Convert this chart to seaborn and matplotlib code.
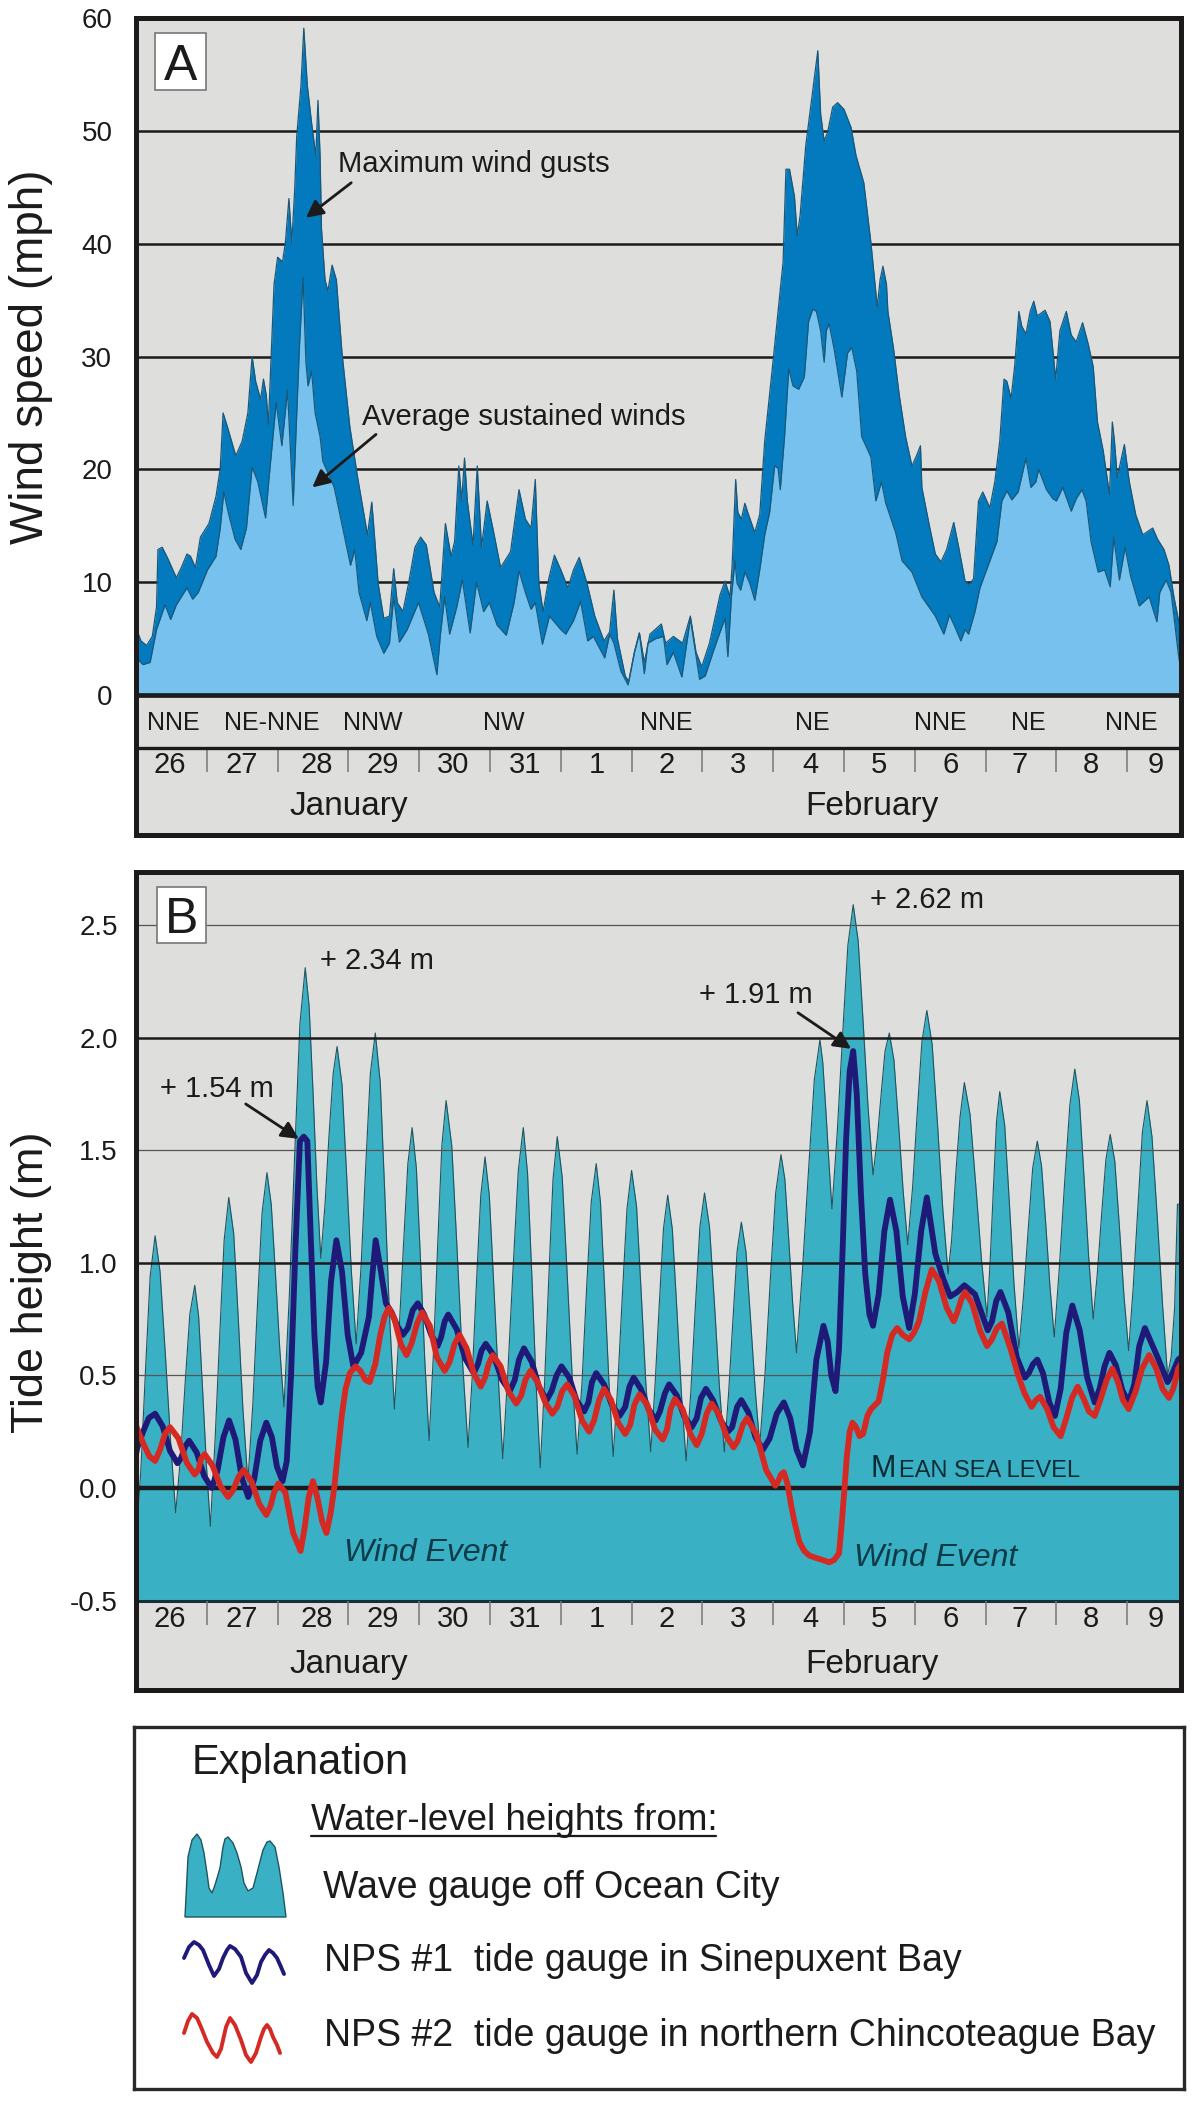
import matplotlib
matplotlib.use('Agg')
import matplotlib.pyplot as plt
import seaborn as sns
from matplotlib.patches import Rectangle

# wind speed, mph (days counted from the start of January 26)
gust_day = [0.0, 0.07, 0.15, 0.23, 0.29, 0.31, 0.37, 0.45, 0.57, 0.64, 0.72, 0.77, 0.84, 0.91, 1.03, 1.13, 1.19, 1.23, 1.29, 1.41,
            1.50, 1.58, 1.64, 1.69, 1.76, 1.80, 1.84, 1.87, 1.91, 1.95, 2.00, 2.07, 2.11, 2.16, 2.20, 2.24, 2.27, 2.33, 2.37, 2.42,
            2.48, 2.54, 2.57, 2.60, 2.62, 2.67, 2.71, 2.77, 2.83, 2.91, 3.02, 3.13, 3.22, 3.27, 3.33, 3.36, 3.42, 3.50, 3.58, 3.64,
            3.69, 3.77, 3.85, 3.94, 4.02, 4.10, 4.21, 4.29, 4.37, 4.45, 4.50, 4.56, 4.60, 4.64, 4.68, 4.76, 4.82, 4.88, 4.96, 5.04,
            5.15, 5.29, 5.41, 5.50, 5.58, 5.64, 5.69, 5.75, 5.83, 5.91, 6.00, 6.10, 6.18, 6.26, 6.37, 6.48, 6.61, 6.69, 6.75, 6.80,
            6.91, 6.96, 7.04, 7.11, 7.18, 7.26, 7.42, 7.48, 7.59, 7.72, 7.83, 7.91, 7.99, 8.10, 8.25, 8.32, 8.39, 8.42, 8.47, 8.50,
            8.55, 8.60, 8.64, 8.74, 8.81, 8.88, 8.99, 9.14, 9.18, 9.23, 9.30, 9.34, 9.38, 9.46, 9.56, 9.63, 9.67, 9.72, 9.77, 9.84,
            9.91, 10.00, 10.10, 10.17, 10.28, 10.38, 10.47, 10.51, 10.55, 10.60, 10.62, 10.70, 10.78, 10.87, 10.96, 11.03, 11.08, 11.10, 11.20, 11.29,
            11.37, 11.45, 11.55, 11.62, 11.71, 11.77, 11.83, 11.90, 11.96, 12.06, 12.13, 12.20, 12.26, 12.30, 12.36, 12.41, 12.47, 12.51, 12.57, 12.63,
            12.68, 12.73, 12.84, 12.91, 12.99, 13.05, 13.14, 13.21, 13.28, 13.37, 13.45, 13.52, 13.58, 13.66, 13.75, 13.79, 13.82, 13.86, 13.96, 14.03,
            14.12, 14.22, 14.36, 14.43, 14.52, 14.59, 14.66, 14.72, 14.76]
gust_mph = [6.0, 4.8, 4.4, 5.2, 7.8, 12.9, 13.1, 12.1, 10.4, 11.3, 12.5, 12.3, 11.3, 14.0, 15.2, 17.6, 20.1, 25.0, 23.8, 21.2,
            22.5, 25.0, 30.0, 27.8, 26.2, 28.0, 26.6, 24.0, 30.3, 36.4, 38.8, 38.4, 40.1, 44.0, 40.1, 44.6, 49.5, 54.0, 59.1, 54.0,
            50.7, 47.8, 52.7, 47.8, 41.3, 36.8, 35.8, 38.1, 36.8, 30.3, 23.8, 19.3, 16.0, 14.2, 17.1, 14.8, 9.9, 6.8, 7.0, 11.2,
            8.2, 7.4, 9.9, 13.1, 14.0, 13.3, 9.1, 7.8, 15.2, 12.3, 13.6, 20.3, 17.2, 21.0, 17.2, 13.3, 20.3, 13.1, 17.2, 14.8,
            11.3, 12.7, 18.2, 15.6, 14.8, 19.1, 9.9, 7.4, 10.3, 12.4, 11.1, 9.5, 11.1, 12.2, 9.9, 7.0, 4.8, 5.6, 9.3, 5.0,
            1.7, 1.2, 3.8, 5.5, 2.9, 5.4, 6.3, 4.6, 5.2, 4.6, 7.0, 3.8, 2.5, 4.6, 8.9, 10.1, 8.7, 11.5, 19.1, 16.2,
            15.6, 17.0, 16.2, 14.4, 16.0, 22.5, 29.1, 38.4, 46.6, 46.6, 44.2, 40.7, 42.5, 48.7, 53.6, 57.1, 51.5, 49.1, 49.9, 52.1,
            52.5, 51.9, 50.3, 47.8, 45.4, 40.1, 34.4, 36.8, 38.0, 36.4, 34.0, 30.7, 26.6, 22.9, 20.3, 21.3, 22.1, 18.4, 15.2, 12.5,
            11.8, 12.9, 15.3, 13.1, 10.1, 9.8, 10.3, 17.2, 18.0, 16.6, 18.9, 22.5, 28.0, 27.8, 26.3, 29.1, 34.0, 32.7, 32.0, 34.0,
            34.9, 33.6, 34.1, 33.1, 28.0, 32.3, 34.0, 31.9, 31.3, 33.0, 31.1, 29.1, 24.2, 21.7, 17.8, 24.2, 22.5, 19.3, 22.2, 18.9,
            16.0, 14.2, 14.8, 13.8, 12.9, 11.5, 8.7, 6.8, 5.5]
sust_day = [0.0, 0.10, 0.20, 0.29, 0.41, 0.49, 0.57, 0.72, 0.80, 0.88, 1.01, 1.13, 1.19, 1.24, 1.31, 1.40, 1.48, 1.56, 1.64, 1.72,
            1.83, 1.88, 1.98, 2.06, 2.14, 2.22, 2.26, 2.31, 2.36, 2.40, 2.43, 2.48, 2.53, 2.60, 2.64, 2.80, 2.96, 3.03, 3.09, 3.15,
            3.26, 3.31, 3.40, 3.50, 3.58, 3.64, 3.72, 3.83, 3.99, 4.13, 4.25, 4.30, 4.36, 4.43, 4.53, 4.61, 4.72, 4.81, 4.91, 4.99,
            5.10, 5.23, 5.34, 5.41, 5.50, 5.58, 5.64, 5.74, 5.84, 6.00, 6.07, 6.18, 6.28, 6.38, 6.46, 6.62, 6.69, 6.75, 6.85, 6.95,
            7.04, 7.11, 7.18, 7.23, 7.34, 7.45, 7.50, 7.59, 7.71, 7.83, 7.96, 8.04, 8.15, 8.25, 8.32, 8.36, 8.41, 8.46, 8.49, 8.54,
            8.60, 8.67, 8.74, 8.81, 8.88, 8.95, 9.02, 9.07, 9.10, 9.16, 9.22, 9.28, 9.36, 9.44, 9.50, 9.56, 9.61, 9.67, 9.72, 9.75,
            9.79, 9.86, 9.97, 10.05, 10.11, 10.18, 10.25, 10.38, 10.45, 10.53, 10.59, 10.73, 10.82, 10.96, 11.10, 11.29, 11.41, 11.49, 11.57, 11.65,
            11.71, 11.76, 11.85, 11.92, 12.16, 12.23, 12.30, 12.37, 12.46, 12.57, 12.64, 12.71, 12.75, 12.86, 12.95, 13.00, 13.09, 13.21, 13.28, 13.36,
            13.42, 13.49, 13.59, 13.68, 13.76, 13.81, 13.89, 13.97, 14.05, 14.17, 14.31, 14.42, 14.46, 14.55, 14.62, 14.72, 14.76]
sust_mph = [3.3, 2.7, 2.9, 5.8, 8.0, 6.7, 8.0, 9.5, 8.5, 9.1, 11.1, 12.3, 14.8, 18.0, 16.0, 13.8, 12.9, 14.8, 20.2, 18.9,
            15.7, 19.3, 25.9, 22.1, 27.0, 16.8, 23.3, 31.1, 37.0, 29.5, 27.4, 28.7, 25.0, 22.9, 20.7, 18.4, 13.6, 11.5, 12.9, 9.1,
            6.6, 8.2, 5.2, 3.7, 4.6, 8.7, 4.7, 5.8, 8.2, 5.4, 1.8, 5.4, 8.7, 5.4, 7.8, 10.2, 5.5, 10.0, 7.4, 8.2,
            6.2, 5.3, 8.2, 11.0, 9.1, 7.6, 8.2, 4.5, 7.0, 5.8, 5.4, 6.6, 8.3, 4.8, 5.2, 3.3, 5.4, 4.6, 2.1, 0.9,
            3.8, 5.5, 1.9, 4.6, 5.0, 5.2, 2.7, 3.8, 1.6, 6.8, 1.4, 1.7, 3.8, 5.6, 6.8, 3.4, 8.7, 11.9, 9.9, 9.3,
            10.9, 9.9, 8.4, 11.1, 14.2, 16.2, 20.3, 20.1, 18.2, 22.9, 28.9, 27.4, 27.1, 28.2, 33.1, 34.2, 34.0, 32.3, 29.5, 32.3,
            32.9, 30.7, 26.4, 30.3, 30.8, 28.7, 22.9, 21.1, 17.2, 18.9, 17.0, 14.4, 11.9, 10.9, 8.7, 7.0, 5.4, 7.1, 6.0, 4.8,
            5.8, 5.4, 7.4, 9.5, 13.6, 17.2, 18.1, 17.3, 18.0, 21.0, 18.4, 18.9, 20.0, 18.2, 17.4, 17.2, 18.4, 16.3, 17.4, 18.2,
            17.2, 13.6, 10.9, 11.1, 9.6, 14.0, 10.2, 13.1, 10.5, 7.9, 8.7, 6.5, 9.1, 10.2, 9.1, 3.8, 2.0]

# water level, metres
wave_day = [0.00, 0.07, 0.135, 0.20, 0.27, 0.34, 0.415, 0.49, 0.56, 0.63, 0.695, 0.76, 0.83, 0.885, 0.94, 0.995, 1.05, 1.115, 1.18, 1.245,
            1.31, 1.38, 1.445, 1.51, 1.58, 1.65, 1.715, 1.78, 1.85, 1.91, 1.97, 2.03, 2.09, 2.165, 2.24, 2.315, 2.39, 2.445, 2.50, 2.555,
            2.61, 2.67, 2.725, 2.785, 2.84, 2.91, 2.975, 3.04, 3.11, 3.18, 3.245, 3.31, 3.38, 3.45, 3.515, 3.58, 3.65, 3.71, 3.775, 3.84,
            3.90, 3.96, 4.02, 4.08, 4.14, 4.20, 4.26, 4.32, 4.38, 4.46, 4.535, 4.61, 4.69, 4.75, 4.81, 4.87, 4.93, 4.99, 5.055, 5.12,
            5.18, 5.25, 5.325, 5.40, 5.47, 5.53, 5.59, 5.65, 5.71, 5.77, 5.83, 5.89, 5.95, 6.02, 6.09, 6.16, 6.23, 6.30, 6.365, 6.43,
            6.50, 6.56, 6.62, 6.68, 6.74, 6.805, 6.87, 6.935, 7.00, 7.07, 7.135, 7.20, 7.27, 7.33, 7.39, 7.45, 7.51, 7.575, 7.64, 7.705,
            7.77, 7.835, 7.90, 7.965, 8.03, 8.10, 8.17, 8.24, 8.31, 8.37, 8.43, 8.49, 8.55, 8.615, 8.68, 8.745, 8.81, 8.885, 8.96, 9.035,
            9.11, 9.165, 9.22, 9.275, 9.33, 9.41, 9.495, 9.58, 9.66, 9.70, 9.745, 9.79, 9.83, 9.905, 9.98, 10.055, 10.13, 10.20, 10.27, 10.34,
            10.41, 10.47, 10.525, 10.58, 10.64, 10.705, 10.77, 10.835, 10.90, 10.97, 11.035, 11.10, 11.17, 11.245, 11.32, 11.395, 11.47, 11.52, 11.58, 11.64,
            11.70, 11.78, 11.86, 11.94, 12.02, 12.065, 12.11, 12.155, 12.20, 12.27, 12.335, 12.40, 12.47, 12.535, 12.60, 12.665, 12.73, 12.79, 12.85, 12.91,
            12.97, 13.04, 13.115, 13.19, 13.26, 13.325, 13.39, 13.455, 13.52, 13.58, 13.64, 13.70, 13.76, 13.825, 13.89, 13.955, 14.02, 14.085, 14.15, 14.215,
            14.28, 14.35, 14.425, 14.50, 14.57, 14.62, 14.67, 14.71, 14.76]
wave_m = [-0.25, 0.09, 0.53, 0.94, 1.12, 0.96, 0.59, 0.20, -0.11, 0.14, 0.47, 0.77, 0.90, 0.76, 0.44, 0.10, -0.17, 0.20, 0.66, 1.10,
          1.29, 1.13, 0.75, 0.35, 0.03, 0.37, 0.81, 1.22, 1.40, 1.26, 0.95, 0.62, 0.36, 0.85, 1.47, 2.06, 2.31, 2.14, 1.76, 1.34,
          1.02, 1.26, 1.56, 1.84, 1.96, 1.79, 1.39, 0.97, 0.64, 0.99, 1.43, 1.84, 2.02, 1.80, 1.30, 0.77, 0.35, 0.66, 1.06, 1.44,
          1.60, 1.42, 1.00, 0.56, 0.21, 0.59, 1.07, 1.52, 1.72, 1.52, 1.06, 0.57, 0.18, 0.50, 0.92, 1.30, 1.47, 1.30, 0.89, 0.47,
          0.13, 0.50, 0.97, 1.41, 1.60, 1.40, 0.95, 0.47, 0.09, 0.46, 0.93, 1.37, 1.56, 1.38, 0.95, 0.50, 0.15, 0.47, 0.89, 1.27,
          1.44, 1.27, 0.88, 0.47, 0.14, 0.46, 0.86, 1.24, 1.41, 1.25, 0.87, 0.47, 0.16, 0.45, 0.81, 1.15, 1.30, 1.15, 0.79, 0.41,
          0.12, 0.42, 0.80, 1.16, 1.31, 1.16, 0.82, 0.45, 0.16, 0.42, 0.74, 1.05, 1.18, 1.05, 0.75, 0.44, 0.19, 0.51, 0.93, 1.31,
          1.48, 1.37, 1.10, 0.82, 0.60, 0.95, 1.39, 1.81, 1.99, 1.89, 1.67, 1.43, 1.24, 1.58, 2.01, 2.41, 2.59, 2.43, 2.07, 1.69,
          1.39, 1.55, 1.75, 1.94, 2.02, 1.90, 1.62, 1.32, 1.08, 1.34, 1.67, 1.98, 2.12, 1.97, 1.62, 1.24, 0.95, 1.10, 1.40, 1.65,
          1.80, 1.66, 1.35, 1.02, 0.76, 1.01, 1.33, 1.63, 1.76, 1.61, 1.27, 0.91, 0.62, 0.85, 1.14, 1.42, 1.54, 1.43, 1.17, 0.89,
          0.67, 0.97, 1.35, 1.70, 1.86, 1.72, 1.38, 1.03, 0.75, 0.96, 1.22, 1.46, 1.57, 1.45, 1.16, 0.85, 0.61, 0.89, 1.24, 1.58,
          1.72, 1.56, 1.20, 0.81, 0.50, 0.58, 0.80, 1.26, 1.26]
nps1_day = [0.00, 0.02, 0.10, 0.18, 0.27, 0.375, 0.48, 0.585, 0.64, 0.695, 0.75, 0.857, 0.963, 1.07, 1.15, 1.235, 1.315, 1.405, 1.495, 1.585,
            1.67, 1.755, 1.84, 1.92, 1.99, 2.07, 2.13, 2.19, 2.25, 2.315, 2.37, 2.42, 2.47, 2.52, 2.565, 2.61, 2.685, 2.755, 2.83, 2.91,
            2.99, 3.07, 3.18, 3.29, 3.34, 3.385, 3.45, 3.53, 3.61, 3.69, 3.77, 3.84, 3.91, 3.98, 4.07, 4.17, 4.26, 4.31, 4.36, 4.41,
            4.53, 4.65, 4.77, 4.83, 4.88, 4.94, 5.05, 5.17, 5.28, 5.35, 5.41, 5.48, 5.59, 5.69, 5.80, 5.87, 5.94, 6.01, 6.12, 6.22,
            6.33, 6.39, 6.44, 6.50, 6.61, 6.72, 6.83, 6.91, 6.97, 7.03, 7.13, 7.24, 7.34, 7.40, 7.47, 7.53, 7.64, 7.74, 7.85, 7.92,
            7.98, 8.05, 8.15, 8.26, 8.36, 8.42, 8.49, 8.55, 8.65, 8.75, 8.855, 8.95, 9.05, 9.15, 9.24, 9.33, 9.42, 9.52, 9.61, 9.71,
            9.77, 9.82, 9.88, 9.93, 9.98, 10.03, 10.08, 10.13, 10.18, 10.24, 10.30, 10.36, 10.41, 10.49, 10.57, 10.65, 10.74, 10.83, 10.92, 11.00,
            11.09, 11.17, 11.29, 11.40, 11.50, 11.60, 11.70, 11.85, 12.03, 12.09, 12.15, 12.21, 12.32, 12.44, 12.555, 12.61, 12.67, 12.73, 12.81, 12.90,
            12.98, 13.06, 13.14, 13.225, 13.33, 13.435, 13.54, 13.61, 13.68, 13.75, 13.84, 13.93, 14.02, 14.10, 14.17, 14.25, 14.43, 14.57, 14.64, 14.72, 14.76]
nps1_m = [0.15, 0.18, 0.25, 0.31, 0.33, 0.275, 0.165, 0.11, 0.135, 0.185, 0.21, 0.158, 0.053, 0.00, 0.075, 0.225, 0.30, 0.215, 0.045, -0.04,
          0.04, 0.21, 0.29, 0.225, 0.095, 0.03, 0.12, 0.50, 1.05, 1.54, 1.56, 1.54, 1.10, 0.68, 0.45, 0.38, 0.56, 0.92, 1.10, 0.96,
          0.68, 0.54, 0.60, 0.76, 0.95, 1.10, 0.98, 0.82, 0.78, 0.72, 0.68, 0.71, 0.79, 0.82, 0.77, 0.68, 0.63, 0.67, 0.74, 0.77,
          0.705, 0.575, 0.51, 0.55, 0.61, 0.64, 0.59, 0.48, 0.43, 0.48, 0.57, 0.62, 0.56, 0.45, 0.39, 0.43, 0.50, 0.54, 0.49, 0.39,
          0.34, 0.38, 0.47, 0.51, 0.46, 0.37, 0.32, 0.36, 0.45, 0.49, 0.44, 0.35, 0.30, 0.34, 0.42, 0.46, 0.41, 0.32, 0.27, 0.31,
          0.40, 0.44, 0.39, 0.30, 0.25, 0.27, 0.36, 0.39, 0.335, 0.225, 0.17, 0.22, 0.33, 0.38, 0.31, 0.17, 0.10, 0.25, 0.57, 0.72,
          0.65, 0.50, 0.43, 0.62, 1.05, 1.55, 1.85, 1.94, 1.75, 1.30, 0.95, 0.77, 0.72, 0.86, 1.14, 1.28, 1.14, 0.85, 0.71, 0.86,
          1.14, 1.29, 1.04, 0.93, 0.85, 0.87, 0.90, 0.86, 0.70, 0.74, 0.83, 0.87, 0.78, 0.58, 0.49, 0.51, 0.55, 0.57, 0.51, 0.38,
          0.32, 0.44, 0.69, 0.81, 0.70, 0.49, 0.38, 0.44, 0.54, 0.60, 0.545, 0.435, 0.38, 0.46, 0.63, 0.71, 0.58, 0.47, 0.51, 0.57, 0.58]
nps2_day = [0.00, 0.02, 0.10, 0.19, 0.27, 0.34, 0.41, 0.48, 0.60, 0.72, 0.83, 0.88, 0.92, 0.97, 1.08, 1.19, 1.30, 1.37, 1.45, 1.52,
            1.63, 1.74, 1.84, 1.90, 1.95, 2.01, 2.11, 2.22, 2.325, 2.38, 2.44, 2.50, 2.56, 2.63, 2.69, 2.75, 2.80, 2.855, 2.91, 2.96,
            3.02, 3.10, 3.17, 3.24, 3.30, 3.38, 3.45, 3.51, 3.57, 3.65, 3.74, 3.82, 3.89, 3.97, 4.04, 4.15, 4.25, 4.36, 4.43, 4.50,
            4.57, 4.67, 4.77, 4.87, 4.93, 4.98, 5.04, 5.15, 5.26, 5.37, 5.44, 5.50, 5.57, 5.67, 5.78, 5.88, 5.95, 6.02, 6.09, 6.19,
            6.30, 6.40, 6.47, 6.54, 6.61, 6.71, 6.81, 6.91, 6.98, 7.04, 7.11, 7.22, 7.33, 7.44, 7.50, 7.55, 7.61, 7.72, 7.83, 7.92,
            7.99, 8.06, 8.13, 8.23, 8.34, 8.44, 8.50, 8.57, 8.63, 8.76, 8.90, 9.03, 9.07, 9.11, 9.15, 9.20, 9.25, 9.30, 9.37, 9.44,
            9.51, 9.60, 9.70, 9.79, 9.86, 9.93, 9.97, 10.00, 10.04, 10.08, 10.12, 10.17, 10.22, 10.27, 10.33, 10.38, 10.49, 10.55, 10.61, 10.68,
            10.75, 10.83, 10.92, 10.99, 11.06, 11.15, 11.24, 11.34, 11.45, 11.55, 11.60, 11.66, 11.71, 11.81, 11.92, 12.02, 12.09, 12.16, 12.23, 12.35,
            12.46, 12.55, 12.65, 12.71, 12.77, 12.87, 12.96, 13.06, 13.14, 13.22, 13.30, 13.38, 13.46, 13.54, 13.62, 13.71, 13.79, 13.87, 13.94, 14.02,
            14.12, 14.21, 14.31, 14.41, 14.50, 14.59, 14.65, 14.72, 14.76]
nps2_m = [0.28, 0.26, 0.20, 0.14, 0.12, 0.17, 0.24, 0.27, 0.22, 0.11, 0.06, 0.08, 0.13, 0.15, 0.10, 0.01, -0.04, -0.01, 0.05, 0.08,
          0.03, -0.07, -0.12, -0.08, -0.02, 0.02, -0.02, -0.20, -0.28, -0.18, -0.04, 0.03, -0.04, -0.15, -0.20, -0.11, 0.00, 0.17, 0.33, 0.44,
          0.51, 0.54, 0.52, 0.48, 0.47, 0.55, 0.68, 0.76, 0.80, 0.75, 0.64, 0.59, 0.64, 0.73, 0.78, 0.72, 0.58, 0.52, 0.56, 0.64,
          0.68, 0.62, 0.51, 0.45, 0.49, 0.55, 0.59, 0.54, 0.43, 0.375, 0.41, 0.48, 0.52, 0.47, 0.38, 0.33, 0.36, 0.43, 0.46, 0.41,
          0.30, 0.25, 0.30, 0.39, 0.44, 0.39, 0.29, 0.24, 0.28, 0.37, 0.415, 0.37, 0.26, 0.215, 0.26, 0.35, 0.395, 0.35, 0.24, 0.19,
          0.24, 0.33, 0.375, 0.33, 0.23, 0.18, 0.21, 0.28, 0.31, 0.24, 0.08, 0.01, 0.03, 0.06, 0.07, 0.02, -0.07, -0.15, -0.24, -0.28,
          -0.30, -0.31, -0.32, -0.33, -0.32, -0.29, -0.15, -0.03, 0.14, 0.25, 0.29, 0.27, 0.23, 0.24, 0.32, 0.35, 0.385, 0.48, 0.60, 0.68,
          0.71, 0.68, 0.66, 0.69, 0.74, 0.87, 0.97, 0.92, 0.80, 0.74, 0.78, 0.84, 0.87, 0.82, 0.70, 0.63, 0.66, 0.71, 0.73, 0.62,
          0.50, 0.42, 0.36, 0.39, 0.405, 0.35, 0.27, 0.23, 0.31, 0.40, 0.45, 0.40, 0.34, 0.32, 0.39, 0.48, 0.53, 0.47, 0.39, 0.35,
          0.43, 0.53, 0.59, 0.53, 0.44, 0.40, 0.44, 0.53, 0.55]

day_labels = ['26', '27', '28', '29', '30', '31', '1', '2', '3', '4', '5', '6', '7', '8', '9']
day_centers = [0.48, 1.49, 2.55, 3.48, 4.48, 5.50, 6.51, 7.49, 8.50, 9.52, 10.49, 11.51, 12.48, 13.49, 14.40]
day_ticks = list(range(1, 15))
wind_dirs = ['NNE', 'NE-NNE', 'NNW', 'NW', 'NNE', 'NE', 'NNE', 'NE', 'NNE']
wind_dir_days = [0.53, 1.92, 3.34, 5.19, 7.49, 9.55, 11.36, 12.61, 14.06]
wind_ticks = [0, 10, 20, 30, 40, 50, 60]
tide_ticks = [-0.5, 0.0, 0.5, 1.0, 1.5, 2.0, 2.5]

# legend swatches
swatch_x = [51, 53, 54, 58, 63, 67, 70, 73, 75, 78, 81, 86, 89, 91, 94, 99, 103, 107, 110, 114, 119, 123, 129, 133, 136, 141, 145, 149, 152]
swatch_y = [190, 150, 130, 113, 107, 113, 126, 146, 161, 166, 158, 141, 120, 112, 110, 116, 126, 140, 156, 164, 161, 146, 123, 115, 114, 120, 140, 166, 190]
swatch1_x = [50, 55, 60, 65, 69, 75, 80, 85, 89, 93, 96, 101, 107, 112, 118, 123, 127, 131, 135, 139, 143, 147, 150]
swatch1_y = [231, 220, 215, 218, 223, 238, 249, 242, 231, 223, 219, 222, 230, 246, 256, 248, 235, 228, 223, 226, 231, 240, 247]
swatch2_x = [50, 54, 58, 63, 67, 73, 79, 83, 87, 92, 96, 101, 107, 112, 117, 122, 127, 130, 133, 136, 139, 143, 146]
swatch2_y = [306, 294, 287, 291, 300, 315, 326, 330, 322, 300, 291, 298, 313, 328, 335, 326, 310, 302, 298, 302, 310, 318, 326]

bg = '#DEDEDD'
ink = '#1C1A1A'
W, H = 1200, 2101

sns.set_theme(style='white')
plt.rcParams['font.family'] = ['Liberation Sans', 'DejaVu Sans']

fig = plt.figure(figsize=(W / 100, H / 100), dpi=100)


def panel(left, top, right, bottom):
    return fig.add_axes([left / W, 1 - bottom / H, (right - left) / W, (bottom - top) / H])


def letter_box(letter, left, top, right, bottom):
    fig.add_artist(Rectangle((left / W, 1 - bottom / H), (right - left) / W, (bottom - top) / H,
                             transform=fig.transFigure, fc='white', ec='#777777', lw=1.2, zorder=10))
    fig.text((left + right) / 2 / W, 1 - (top + bottom) / 2 / H, letter, fontsize=36, color=ink,
             ha='center', va='center_baseline', zorder=11)


def arrow(ax, start, end):
    ax.annotate('', xy=end, xytext=start, zorder=8,
                arrowprops=dict(arrowstyle='-|>', color=ink, lw=2, mutation_scale=26, shrinkA=0, shrinkB=0))


def style_panel(ax, ticks, pad):
    ax.set_facecolor(bg)
    ax.set_xlim(0, 14.76)
    ax.set_xticks([])
    ax.set_yticks(ticks)
    ax.tick_params(axis='y', length=0, labelsize=20, pad=pad, colors=ink)
    ax.set_xlabel('')
    ax.set_ylabel('')
    for s in ax.spines.values():
        s.set_linewidth(3.6)
        s.set_color(ink)
        s.set_visible(True)
        s.set_zorder(9)


def day_strip(ax, tick_top, tick_bottom, day_y, month_y):
    ax.vlines(day_ticks, tick_bottom, tick_top, color='#777777', lw=1.1)
    for lab, d in zip(day_labels, day_centers):
        ax.text(d, day_y, lab, fontsize=21, color=ink, ha='center', va='center')
    ax.text(3.0, month_y, 'January', fontsize=24, color=ink, ha='center', va='center')
    ax.text(10.4, month_y, 'February', fontsize=24, color=ink, ha='center', va='center')


def side_label(text, y, size):
    fig.text(43 / W, 1 - y / H, text, fontsize=size, color=ink, rotation=90, rotation_mode='anchor',
             ha='center', va='baseline')


# panel A
ax = panel(136, 18, 1181, 835)
ax.set_ylim(-12.4, 60)
ax.hlines([10, 20, 30, 40, 50], 0, 14.76, color=ink, lw=1.8, zorder=1)
ax.fill_between(gust_day, 0, gust_mph, color='#0379BE', lw=0, zorder=2)
ax.fill_between(sust_day, 0, sust_mph, color='#76C1EE', lw=0, zorder=3)
sns.lineplot(x=gust_day, y=gust_mph, ax=ax, color='#1A5878', lw=0.9, sort=False, estimator=None, zorder=4)
sns.lineplot(x=sust_day, y=sust_mph, ax=ax, color='#1A5878', lw=0.9, sort=False, estimator=None, zorder=4)
ax.hlines(0, 0, 14.76, color=ink, lw=3.4, zorder=5)
ax.hlines(-4.7, 0, 14.76, color=ink, lw=2.4, zorder=5)
style_panel(ax, wind_ticks, 17)
for lab, d in zip(wind_dirs, wind_dir_days):
    ax.text(d, -2.5, lab, fontsize=18, color=ink, ha='center', va='center')
day_strip(ax, -4.7, -6.8, -6.2, -9.9)
ax.text(2.85, 47.1, 'Maximum wind gusts', fontsize=21, color=ink, va='center', zorder=8)
arrow(ax, (3.04, 45.4), (2.40, 42.3))
ax.text(3.19, 24.6, 'Average sustained winds', fontsize=21, color=ink, va='center', zorder=8)
arrow(ax, (3.39, 23.1), (2.49, 18.4))
letter_box('A', 155, 33, 206, 90)
side_label('Wind speed (mph)', 357, 33)

# panel B
ax = panel(136, 872, 1181, 1690)
ax.set_ylim(-0.897, 2.735)
ax.fill_between(wave_day, -0.5, wave_m, color='#3AB0C4', lw=0, zorder=1)
sns.lineplot(x=wave_day, y=wave_m, ax=ax, color='#1F5560', lw=0.8, sort=False, estimator=None, zorder=2)
ax.hlines([0.5, 1.5, 2.5], 0, 14.76, color='#555555', lw=0.9, zorder=2)
ax.hlines([1.0, 2.0], 0, 14.76, color=ink, lw=1.8, zorder=2)
ax.hlines(0, 0, 14.76, color=ink, lw=3.2, zorder=2)
ax.hlines(-0.5, 0, 14.76, color='#173038', lw=2.2, zorder=2)
sns.lineplot(x=nps1_day, y=nps1_m, ax=ax, color='#1F1A78', lw=4.2, sort=False, estimator=None, zorder=4)
sns.lineplot(x=nps2_day, y=nps2_m, ax=ax, color='#D42A23', lw=4.2, sort=False, estimator=None, zorder=5)
style_panel(ax, tide_ticks, 13)
ax.yaxis.set_major_formatter(lambda v, pos: f'{v:.1f}')
day_strip(ax, -0.5, -0.607, -0.58, -0.785)
ax.text(2.60, 2.34, '+ 2.34 m', fontsize=21, color=ink, va='center', zorder=8)
ax.text(0.34, 1.77, '+ 1.54 m', fontsize=21, color=ink, va='center', zorder=8)
arrow(ax, (1.55, 1.705), (2.30, 1.55))
ax.text(7.95, 2.19, '+ 1.91 m', fontsize=21, color=ink, va='center', zorder=8)
arrow(ax, (9.35, 2.11), (10.10, 1.95))
ax.text(10.37, 2.61, '+ 2.62 m', fontsize=21, color=ink, va='center', zorder=8)
ax.text(2.94, -0.29, 'Wind Event', fontsize=23, style='italic', color='#0E3B48', va='center', zorder=8)
ax.text(10.14, -0.31, 'Wind Event', fontsize=23, style='italic', color='#0E3B48', va='center', zorder=8)
ax.text(10.38, 0.05, 'M', fontsize=22, color='#0E2B33', va='baseline', zorder=8)
ax.text(10.78, 0.05, 'EAN SEA LEVEL', fontsize=17, color='#0E2B33', va='baseline', zorder=8)
letter_box('B', 157, 887, 206, 943)
side_label('Tide height (m)', 1282, 32.5)

# explanation box
ax = panel(134, 1727, 1184, 2089)
ax.fill(swatch_x, swatch_y, fc='#3AB0C4', ec='#1F5560', lw=1.0)
sns.lineplot(x=swatch1_x, y=swatch1_y, ax=ax, color='#1F1A78', lw=2.8, sort=False, estimator=None)
sns.lineplot(x=swatch2_x, y=swatch2_y, ax=ax, color='#D42A23', lw=2.8, sort=False, estimator=None)
ax.set_xlim(0, 1050)
ax.set_ylim(362, 0)
ax.set_facecolor('white')
ax.set_xlabel('')
ax.set_ylabel('')
ax.set_xticks([])
ax.set_yticks([])
for s in ax.spines.values():
    s.set_linewidth(2.4)
    s.set_color('#2A2828')
    s.set_visible(True)
ax.text(58, 36, 'Explanation', fontsize=30, color=ink, va='center')
ax.text(177, 93, 'Water-level heights from:', fontsize=26.5, color=ink, va='center')
ax.plot([177, 582], [109, 109], color=ink, lw=1.6)
ax.text(189, 161, 'Wave gauge off Ocean City', fontsize=27, color=ink, va='center')
ax.text(190, 234, 'NPS #1  tide gauge in Sinepuxent Bay', fontsize=27, color=ink, va='center')
ax.text(190, 309, 'NPS #2  tide gauge in northern Chincoteague Bay', fontsize=27, color=ink, va='center')

fig.savefig('out.png', dpi=100)
